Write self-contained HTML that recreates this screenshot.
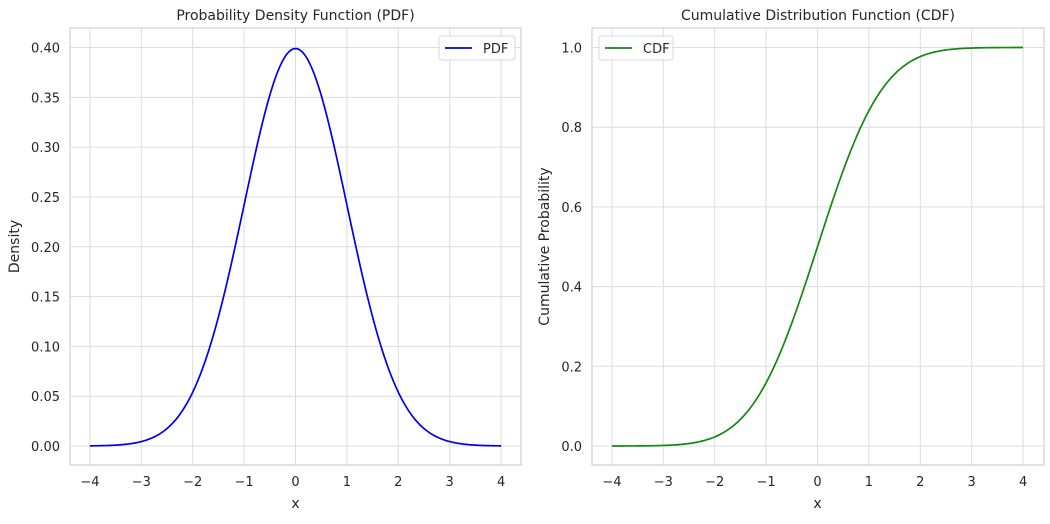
<!DOCTYPE html>
<html><head><meta charset="utf-8"><style>
body{margin:0;background:#fff;width:1050px;height:519px;overflow:hidden}
svg text{font-family:"DejaVu Sans","Liberation Sans",sans-serif;fill:#262626}
</style></head><body>
<svg id="s" width="1050" height="519" xmlns="http://www.w3.org/2000/svg"></svg>
<script>
const s=document.getElementById('s');let h='';
function erf(x){const t=1/(1+0.3275911*Math.abs(x));const y=1-(((((1.061405429*t-1.453152027)*t)+1.421413741)*t-0.284496736)*t+0.254829592)*t*Math.exp(-x*x);return x>=0?y:-y;}
function panel(L,R,x0px,f,ymax,yticks,fmt,title,ylab,color,legX,legLabel,ylabX){
 const T=28,B=465,y0=446,ytop=47.5,u=51.4;
 const Y=v=>y0-(v/ymax)*(y0-ytop),X=v=>x0px+v*u;
 h+=`<rect x="${L}" y="${T}" width="${R-L}" height="${B-T}" fill="#fff" stroke="#d0d0d0" stroke-width="1.2"/>`;
 for(let i=-4;i<=4;i++){h+=`<line x1="${X(i)}" x2="${X(i)}" y1="${T}" y2="${B}" stroke="#dcdcdc" stroke-width="1"/>`;
  h+=`<text x="${X(i)}" y="486" font-size="13" text-anchor="middle">${i<0?'\u2212'+(-i):i}</text>`;}
 yticks.forEach(v=>{h+=`<line x1="${L}" x2="${R}" y1="${Y(v)}" y2="${Y(v)}" stroke="#dcdcdc" stroke-width="1"/>`;
  h+=`<text x="${L-10}" y="${Y(v)+5}" font-size="13" text-anchor="end">${fmt(v)}</text>`;});
 let p='';for(let i=0;i<=400;i++){const x=-4+8*i/400;p+=(i?'L':'M')+X(x).toFixed(2)+' '+Y(f(x)).toFixed(2);}
 h+=`<path d="${p}" fill="none" stroke="${color}" stroke-width="1.7"/>`;
 h+=`<text x="${(L+R)/2}" y="20" font-size="14" text-anchor="middle">${title}</text>`;
 h+=`<text x="${X(0)}" y="508" font-size="14" text-anchor="middle">x</text>`;
 h+=`<text transform="translate(${ylabX},${(T+B)/2}) rotate(-90)" font-size="14" text-anchor="middle">${ylab}</text>`;
 h+=`<rect x="${legX}" y="36" width="${legLabel=='PDF'?76:74}" height="24" rx="3" fill="#fff" fill-opacity="0.85" stroke="#d8d8d8"/>`;
 h+=`<line x1="${legX+6}" x2="${legX+33}" y1="48" y2="48" stroke="${color}" stroke-width="1.7"/>`;
 h+=`<text x="${legX+44}" y="53" font-size="13">${legLabel}</text>`;
}
panel(70,521,295.5,x=>Math.exp(-x*x/2)/Math.sqrt(2*Math.PI),0.4,[0,.05,.1,.15,.2,.25,.3,.35,.4],v=>v.toFixed(2),'Probability Density Function (PDF)','Density','#0000ee',439,'PDF',19);
panel(592,1044,817.5,x=>0.5*(1+erf(x/Math.SQRT2)),1.0,[0,.2,.4,.6,.8,1],v=>v.toFixed(1),'Cumulative Distribution Function (CDF)','Cumulative Probability','#118811',599,'CDF',549);
s.innerHTML=h;
</script>
</body></html>
